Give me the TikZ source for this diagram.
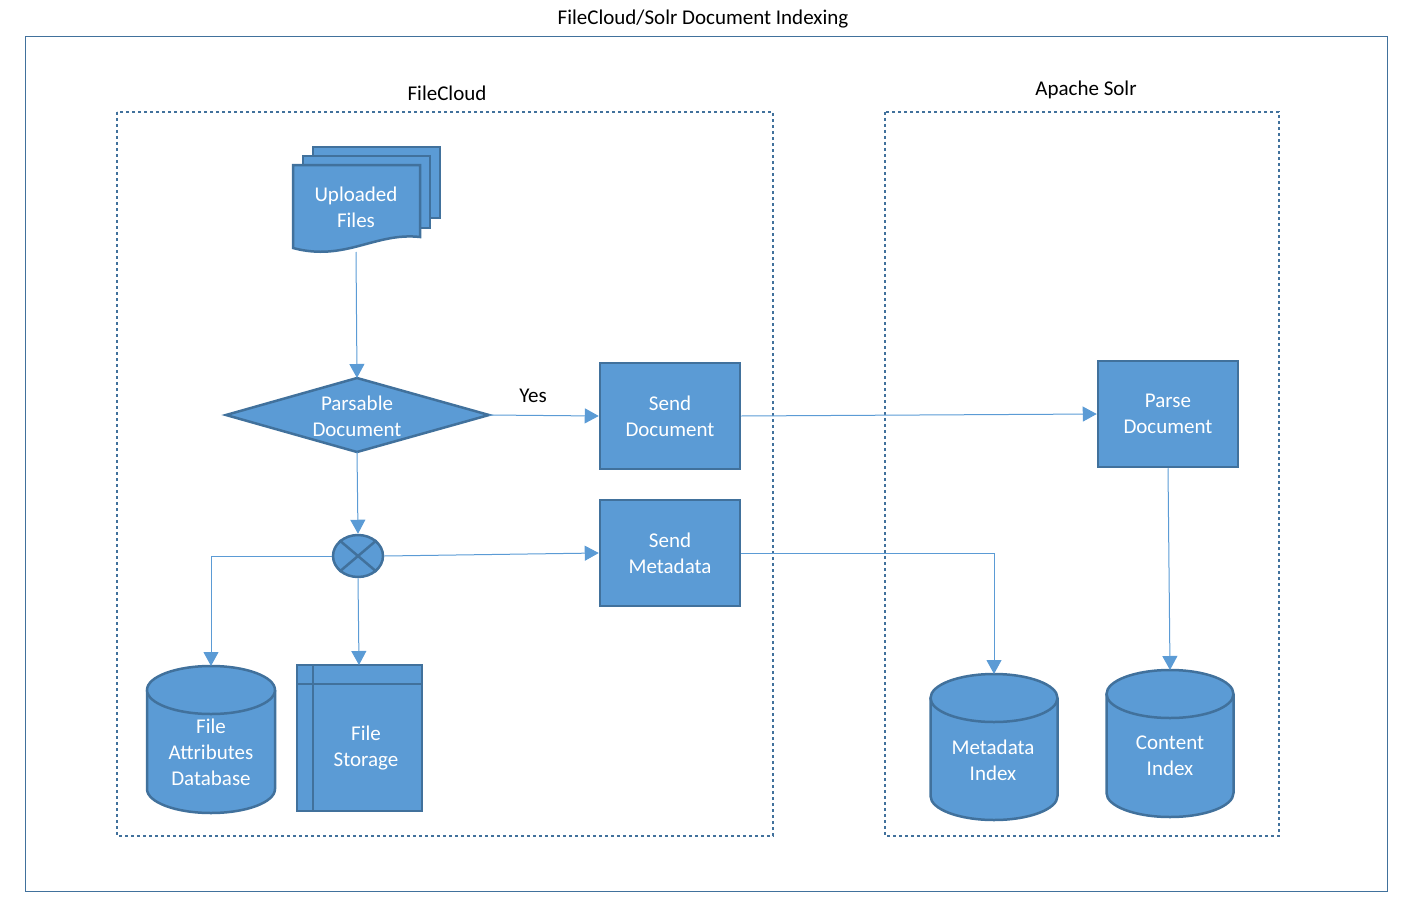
\documentclass[tikz,border=0pt]{standalone}
\usepackage{fontspec}
\setmainfont{Carlito}
\usetikzlibrary{arrows.meta,shapes.geometric}
\definecolor{fillc}{RGB}{91,155,213}
\definecolor{bordc}{RGB}{65,113,156}
\definecolor{linec}{RGB}{91,155,213}
\tikzset{
  x=1pt,y=1pt,
  txt/.style={font=\fontsize{21}{26}\selectfont, align=center, inner sep=0pt},
  wtxt/.style={txt, text=white},
  shp/.style={fill=fillc, draw=bordc, line width=2.5pt, line join=miter},
  proc/.style={shp, rectangle, minimum width=140, minimum height=106, inner sep=0pt, wtxt},
  conn/.style={draw=linec, line width=1pt, -{Triangle[width=15pt,length=14pt]}},
  frame/.style={draw=bordc, line width=1pt},
  dotbox/.style={draw=bordc, line width=2.6pt, dash pattern=on 2.6pt off 3.4pt},
}
\newcommand{\cylshape}[4]{% cx, top, bottom, halfwidth
  \draw[shp] (#1-#4,-#2-24) -- (#1-#4,-#3+24)
    arc[start angle=180,end angle=360,x radius=#4pt,y radius=24pt]
    -- (#1+#4,-#2-24);
  \draw[shp] (#1,-#2-24) ellipse [x radius=#4pt, y radius=24pt];
}
\begin{document}
\begin{tikzpicture}
\useasboundingbox (0,0) rectangle (1413,-915);
% title and frames
\node[txt] (title) at (703,-19) {FileCloud/Solr Document Indexing};
\draw[frame] (25,-37) rectangle (1387,-891);
\draw[dotbox] (117,-112) rectangle (773,-836);
\draw[dotbox] (885,-112) rectangle (1279,-836);
\node[txt] (fclabel) at (447,-93) {FileCloud};
\node[txt] (solrlabel) at (1086,-90) {Apache Solr};

% Uploaded files (multi-document)
\draw[shp] (313,-147) rectangle (440,-218);
\draw[shp] (303,-156) rectangle (430,-228);
\draw[shp] (293,-165) -- (420,-165) -- (420,-237)
  .. controls (375,-232) and (345,-262) .. (293,-248) -- cycle;
\node[wtxt] (up) at (356,-207) {Uploaded\\Files};
\coordinate (upS) at (356,-252);

% Parsable document (diamond)
\draw[shp] (226,-415) -- (357,-378) -- (489,-415) -- (357,-452) -- cycle;
\node[wtxt] (pdoc) at (357,-416) {Parsable\\Document};
\coordinate (pdN) at (357,-378);
\coordinate (pdE) at (489,-415);
\coordinate (pdS) at (357,-452);

% processes
\node[proc] (sd) at (670,-416) {Send\\Document};
\node[proc] (sm) at (670,-553) {Send\\Metadata};
\node[proc] (pars) at (1168,-414) {Parse\\Document};

% junction
\node[shp, ellipse, minimum width=50, minimum height=42, inner sep=0pt] (xj) at (358,-556) {};
\draw[bordc, line width=2.5pt] (xj.north west) -- (xj.south east);
\draw[bordc, line width=2.5pt] (xj.north east) -- (xj.south west);

% File storage
\draw[shp] (297,-665) rectangle (422,-811);
\draw[bordc, line width=2.5pt] (313,-665) -- (313,-811);
\draw[bordc, line width=2.5pt] (297,-684) -- (422,-684);
\node[wtxt] (fs) at (366,-748) {File\\Storage};
\coordinate (fsN) at (359,-665);

% cylinders
\cylshape{211}{666}{813}{64}
\node[wtxt] (fad) at (211,-752) {File\\Attributes\\Database};
\coordinate (fadN) at (211,-666);
\cylshape{994}{674}{820}{63.5}
\node[wtxt] (mi) at (993,-760) {Metadata\\Index};
\coordinate (miN) at (994,-674);
\cylshape{1170}{670}{817}{63.5}
\node[wtxt] (ci) at (1170,-756) {Content\\Index};
\coordinate (ciN) at (1170,-670);

% connectors
\draw[conn] (upS) -- (pdN);
\draw[conn] (pdE) -- (sd.west);
\node[txt] (yes) at (533,-396) {Yes};
\draw[conn] (sd.east) -- (pars.west);
\draw[conn] (pars.south) -- (ciN);
\draw[conn] (pdS) -- (xj.north);
\draw[conn] (xj.east) -- (sm.west);
\draw[conn] (sm.east) -| (miN);
\draw[conn] (xj.west) -| (fadN);
\draw[conn] (xj.south) -- (fsN);
\end{tikzpicture}
\end{document}
